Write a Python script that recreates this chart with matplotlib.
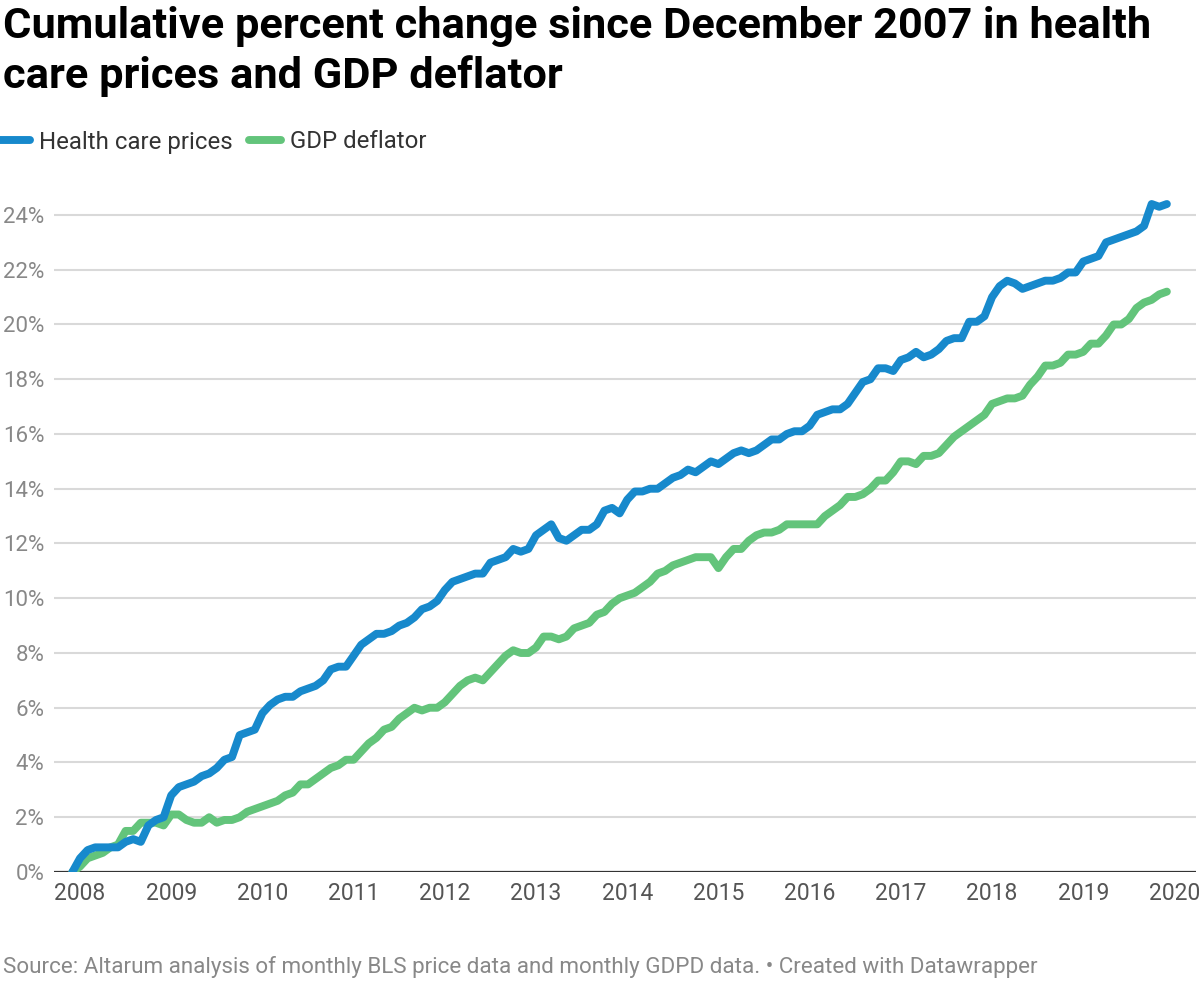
import matplotlib
matplotlib.use("Agg")
import matplotlib.pyplot as plt
import numpy as np

plt.rcParams['font.family'] = ['Roboto', 'DejaVu Sans']

# monthly, Dec 2007 .. Dec 2019
start_year = 2007
start_month = 12
health = [
    0.0, 0.5, 0.8, 0.9, 0.9, 0.9, 0.9, 1.1, 1.2, 1.1, 1.7, 1.9, 2.0,
    2.8, 3.1, 3.2, 3.3, 3.5, 3.6, 3.8, 4.1, 4.2, 5.0, 5.1, 5.2,
    5.8, 6.1, 6.3, 6.4, 6.4, 6.6, 6.7, 6.8, 7.0, 7.4, 7.5, 7.5,
    7.9, 8.3, 8.5, 8.7, 8.7, 8.8, 9.0, 9.1, 9.3, 9.6, 9.7, 9.9,
    10.3, 10.6, 10.7, 10.8, 10.9, 10.9, 11.3, 11.4, 11.5, 11.8, 11.7, 11.8,
    12.3, 12.5, 12.7, 12.2, 12.1, 12.3, 12.5, 12.5, 12.7, 13.2, 13.3, 13.1,
    13.6, 13.9, 13.9, 14.0, 14.0, 14.2, 14.4, 14.5, 14.7, 14.6, 14.8, 15.0,
    14.9, 15.1, 15.3, 15.4, 15.3, 15.4, 15.6, 15.8, 15.8, 16.0, 16.1, 16.1,
    16.3, 16.7, 16.8, 16.9, 16.9, 17.1, 17.5, 17.9, 18.0, 18.4, 18.4, 18.3,
    18.7, 18.8, 19.0, 18.8, 18.9, 19.1, 19.4, 19.5, 19.5, 20.1, 20.1, 20.3,
    21.0, 21.4, 21.6, 21.5, 21.3, 21.4, 21.5, 21.6, 21.6, 21.7, 21.9, 21.9,
    22.3, 22.4, 22.5, 23.0, 23.1, 23.2, 23.3, 23.4, 23.6, 24.4, 24.3, 24.4,
]
gdp = [
    0.0, 0.2, 0.5, 0.6, 0.7, 0.9, 1.0, 1.5, 1.5, 1.8, 1.8, 1.8, 1.7,
    2.1, 2.1, 1.9, 1.8, 1.8, 2.0, 1.8, 1.9, 1.9, 2.0, 2.2, 2.3,
    2.4, 2.5, 2.6, 2.8, 2.9, 3.2, 3.2, 3.4, 3.6, 3.8, 3.9, 4.1,
    4.1, 4.4, 4.7, 4.9, 5.2, 5.3, 5.6, 5.8, 6.0, 5.9, 6.0, 6.0,
    6.2, 6.5, 6.8, 7.0, 7.1, 7.0, 7.3, 7.6, 7.9, 8.1, 8.0, 8.0,
    8.2, 8.6, 8.6, 8.5, 8.6, 8.9, 9.0, 9.1, 9.4, 9.5, 9.8, 10.0,
    10.1, 10.2, 10.4, 10.6, 10.9, 11.0, 11.2, 11.3, 11.4, 11.5, 11.5, 11.5,
    11.1, 11.5, 11.8, 11.8, 12.1, 12.3, 12.4, 12.4, 12.5, 12.7, 12.7, 12.7,
    12.7, 12.7, 13.0, 13.2, 13.4, 13.7, 13.7, 13.8, 14.0, 14.3, 14.3, 14.6,
    15.0, 15.0, 14.9, 15.2, 15.2, 15.3, 15.6, 15.9, 16.1, 16.3, 16.5, 16.7,
    17.1, 17.2, 17.3, 17.3, 17.4, 17.8, 18.1, 18.5, 18.5, 18.6, 18.9, 18.9,
    19.0, 19.3, 19.3, 19.6, 20.0, 20.0, 20.2, 20.6, 20.8, 20.9, 21.1, 21.2,
]
years = list(range(2008, 2021))
yticks = list(range(0, 25, 2))

blue = '#1789cc'
green = '#63c47b'

months = np.arange(len(health))
# index of January of each year
year_pos = [(y - start_year) * 12 + 1 - start_month for y in years]

fig = plt.figure(figsize=(12, 9.9), dpi=100)
ax = fig.add_axes([0.045, 0.1192, 0.9517, 0.6913])

l1, = ax.plot(months, health, color=blue, lw=5.7, solid_capstyle='round',
              solid_joinstyle='round', label='Health care prices', zorder=4)
l2, = ax.plot(months, gdp, color=green, lw=5.7, solid_capstyle='round',
              solid_joinstyle='round', label='GDP deflator', zorder=3)

ax.set_xlim(-2.42, 147.84)
ax.set_ylim(0, 25)
for s in ax.spines.values():
    s.set_visible(False)
for v in yticks[1:]:
    ax.axhline(v, color='#d9d9d9', lw=1.5, zorder=1)
ax.axhline(0, color='#333333', lw=1.6, zorder=2)

ax.set_yticks(yticks)
ax.set_yticklabels([f'{v}%' for v in yticks])
ax.set_xticks(year_pos)
ax.set_xticklabels([str(y) for y in years])
ax.tick_params(axis='y', length=0, pad=7, labelsize=16, labelcolor='#888888')
ax.tick_params(axis='x', length=0, pad=7, labelsize=16.5, labelcolor='#555555')

fig.text(0.0025, 1 - 38 / 990, 'Cumulative percent change since December 2007 in health',
         fontsize=31.2, fontweight='bold', va='baseline', ha='left', color='#000000')
fig.text(0.0025, 1 - 88 / 990, 'care prices and GDP deflator',
         fontsize=31.2, fontweight='bold', va='baseline', ha='left', color='#000000')

leg = fig.legend(handles=[l1, l2], loc='center left', bbox_to_anchor=(-0.002, 1 - 142 / 990),
                 ncol=2, frameon=False, borderpad=0, borderaxespad=0, handlelength=1.33,
                 handletextpad=0.38, columnspacing=0.7, fontsize=17.3)
for t in leg.get_texts():
    t.set_color('#333333')

fig.text(0.0025, 1 - 967 / 990,
         'Source: Altarum analysis of monthly BLS price data and monthly GDPD data. \u2022 Created with Datawrapper',
         fontsize=16.1, color='#888888', va='center', ha='left')

fig.savefig('out.png', dpi=100)
